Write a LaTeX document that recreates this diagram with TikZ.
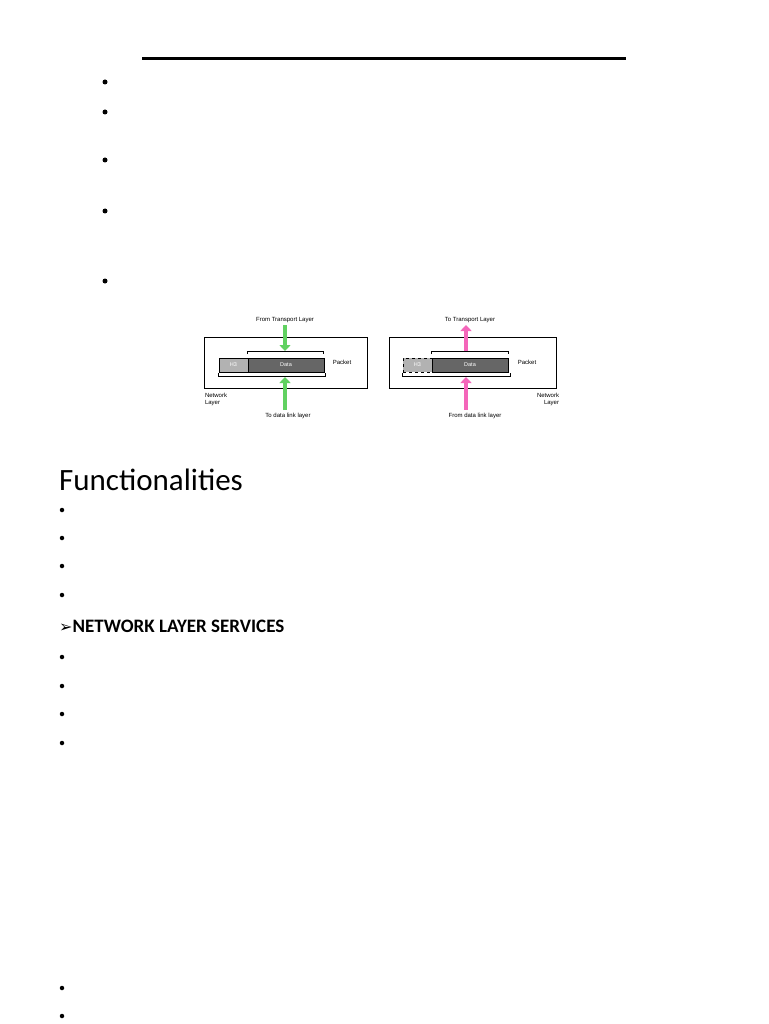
\documentclass[tikz,border=0pt]{standalone}
\usepackage{fontspec}
\setmainfont{Carlito}
\newfontfamily\dejavu{DejaVu Sans}
\newfontfamily\lab{Liberation Sans}
\usetikzlibrary{arrows.meta}
\begin{document}
\begin{tikzpicture}[x=1pt,y=-1pt,
  dot/.style={circle,fill=black,inner sep=0pt,minimum size=5pt},
  lbl/.style={font=\lab\fontsize{6}{7}\selectfont,inner sep=0pt,align=center},
  pkt/.style={draw=black,fill=gray!75,line width=0.6pt},
  brk/.style={line width=0.6pt},
  fat/.style={-{Triangle[width=11pt,length=6pt]},line width=4pt}]
\useasboundingbox (0,0) rectangle (768,1024);
\draw[line width=3pt] (142,59) coordinate (l1) -- (626,59) coordinate (l2);
\foreach \y/\n in {82/a,112/b,160/c,211/d,281/e} \node[dot] (b\n) at (105,\y) {};
% left diagram
\node[draw,line width=0.6pt,minimum width=163pt,minimum height=51pt,inner sep=0pt] (lbox) at (285.5,362.5) {};
\node[pkt,fill=gray!60,minimum width=29pt,minimum height=14pt,inner sep=0pt,font=\lab\fontsize{5.5}{6}\selectfont,text=white] (lh) at (233.5,365) {H3};
\node[pkt,fill=gray!80!black,minimum width=76pt,minimum height=14pt,inner sep=0pt,font=\lab\fontsize{5.5}{6}\selectfont,text=white] (ld) at (286,365) {Data};
\draw[brk] (247,354) -- (247,351) -- (323,351) -- (323,354);
\draw[brk] (218,373) -- (218,376) -- (325,376) -- (325,373);
\node[lbl] (lt) at (285,320) {From Transport Layer};
\node[lbl] (lp) at (342,362) {Packet};
\node[lbl,align=left] (ln) at (216,399) {Network\\Layer};
\node[lbl] (lb) at (288,416) {To data link layer};
\coordinate (la1) at (285,325); \coordinate (la2) at (285,351);
\coordinate (la3) at (285,410); \coordinate (la4) at (285,377);
\draw[fat,draw=green!55!gray!80,color=green!55!gray!80] (la1) -- (la2);
\draw[fat,draw=green!55!gray!80,color=green!55!gray!80] (la3) -- (la4);
% right diagram
\node[draw,line width=0.6pt,minimum width=167pt,minimum height=51pt,inner sep=0pt] (rbox) at (472.5,362.5) {};
\node[draw=black,dashed,fill=gray!60,minimum width=29pt,minimum height=14pt,inner sep=0pt,font=\lab\fontsize{5.5}{6}\selectfont,text=white] (rh) at (417.5,365) {H3};
\node[pkt,fill=gray!80!black,minimum width=76pt,minimum height=14pt,inner sep=0pt,font=\lab\fontsize{5.5}{6}\selectfont,text=white] (rd) at (470,365) {Data};
\draw[brk] (431,354) -- (431,351) -- (508,351) -- (508,354);
\draw[brk] (402,373) -- (402,376) -- (510,376) -- (510,373);
\node[lbl] (rt) at (470,320) {To Transport Layer};
\node[lbl] (rp) at (527,362) {Packet};
\node[lbl,align=right] (rn) at (548,399) {Network\\Layer};
\node[lbl] (rb) at (475,416) {From data link layer};
\coordinate (ra1) at (466,351); \coordinate (ra2) at (466,325);
\coordinate (ra3) at (466,410); \coordinate (ra4) at (466,377);
\draw[fat,draw=magenta!60,color=magenta!60] (ra1) -- (ra2);
\draw[fat,draw=magenta!60,color=magenta!60] (ra3) -- (ra4);
% text
\node[anchor=west,inner sep=0pt,font=\fontsize{31}{34}\selectfont] (fh) at (59,480) {Functionalities};
\foreach \y/\n in {510/f,538/g,566/h,595/i,657/j,686/k,714/l,743/m,988/n,1016/o} \node[dot,minimum size=4.5pt] (c\n) at (62,\y) {};
\node[anchor=west,inner sep=0pt,font=\bfseries\fontsize{19}{22}\selectfont] (ns) at (59,626) {{\dejavu\fontsize{16}{18}\selectfont ➢}NETWORK LAYER SERVICES};
\end{tikzpicture}
\end{document}
